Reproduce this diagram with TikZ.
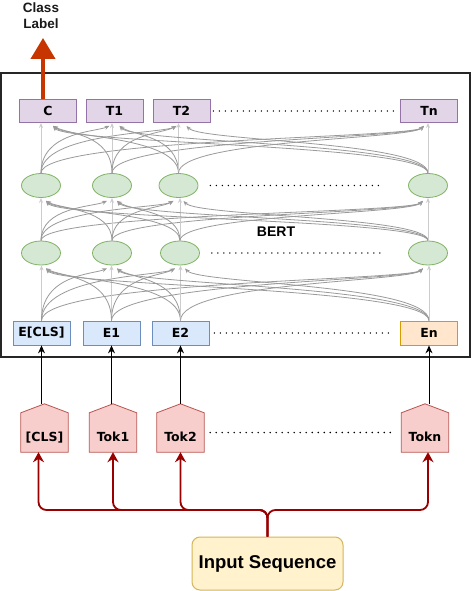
\documentclass[tikz,border=0pt]{standalone}
\usepackage{fontspec}
\setmainfont{Liberation Sans}
\newfontfamily\boxfont{DejaVu Sans}
\usetikzlibrary{arrows.meta,shapes.geometric,backgrounds}
\definecolor{purF}{HTML}{E1D5E7}\definecolor{purD}{HTML}{9673A6}
\definecolor{greF}{HTML}{D5E8D4}\definecolor{greD}{HTML}{82B366}
\definecolor{bluF}{HTML}{DAE8FC}\definecolor{bluD}{HTML}{6C8EBF}
\definecolor{oraF}{HTML}{FFE6CC}\definecolor{oraD}{HTML}{D79B00}
\definecolor{redF}{HTML}{F8CECC}\definecolor{redD}{HTML}{B85450}
\definecolor{yelF}{HTML}{FFF2CC}\definecolor{yelD}{HTML}{D6B656}
\definecolor{busRed}{HTML}{990000}
\definecolor{clsC}{HTML}{C73500}
\definecolor{linkG}{HTML}{9A9A9A}
\definecolor{vlinkG}{HTML}{CCCCCC}
\newcommand\mylinks[6]{%
 \foreach \i/\sx in {#5}{%
  \foreach \j/\tx in {#6}{%
   \ifnum\i=\j\relax
     \draw[vlink] (#1\i.north) -- (#1\i.north |- #3\j.south);
   \else
     \pgfmathsetmacro\mysg{sign(\tx-\sx)}%
     \pgfmathsetmacro\myoff{-5*\mysg}%
     \pgfmathsetmacro\myex{\tx+\myoff}%
     \pgfmathsetmacro\myey{#4+3}%
     \pgfmathsetmacro\myh{#4+8+0.02*abs(\tx-\sx)+2*\i}%
     \pgfmathsetmacro\mycbx{\myex-\mysg*14}%
     \draw[clink] (#1\i.north) .. controls (\sx,\myh) and (\mycbx,\myh) .. ([xshift=\myoff, yshift=-3]#3\j.south);
   \fi
  }%
 }%
}
\begin{document}
\begin{tikzpicture}[x=1pt,y=-1pt,
  lbl/.style={font=\boxfont\bfseries\fontsize{12.5}{14}\selectfont},
  tbox/.style={draw=purD, fill=purF, line width=0.8, minimum width=57, minimum height=23, inner sep=0, lbl},
  ebox/.style={draw=bluD, fill=bluF, line width=0.8, minimum width=57, minimum height=24, inner sep=0, lbl},
  enbox/.style={ebox, draw=oraD, fill=oraF},
  neuron/.style={ellipse, draw=greD, fill=greF, line width=0.8, minimum width=39, minimum height=24, inner sep=0},
  tokn/.style={minimum width=47, minimum height=39, inner sep=0, text height=17, text depth=0, lbl},
  tokshape/.style={draw=redD, fill=redF, line width=0.8},
  clink/.style={draw=linkG, line width=0.8, -{Stealth[length=5pt,width=4pt]}},
  vlink/.style={draw=vlinkG, line width=0.8, -{Stealth[length=5pt,width=4pt]}},
  blk/.style={draw=black, line width=0.9, -{Stealth[length=8pt,width=7pt]}},
  bus/.style={draw=busRed, line width=1.8, rounded corners=8, -{Stealth[length=10pt,width=11pt]}},
  dotl/.style={draw=black, line width=1.6, line cap=round, dash pattern=on 0pt off 6pt},
  title/.style={font=\bfseries\fontsize{14}{16}\selectfont}
]
\useasboundingbox (0,0) rectangle (474,591);
\begin{scope}[on background layer]
\fill[white] (0,0) rectangle (474,591);
\end{scope}

\node[draw=black!85, line width=1.2, minimum width=469, minimum height=284, inner sep=0] (frame) at (235.5,215) {};

% top output boxes
\node[tbox] (T0) at (48,111) {C};
\node[tbox] (T1) at (114.5,111) {T1};
\node[tbox] (T2) at (181.5,111) {T2};
\node[tbox] (T3) at (429,111) {Tn};

% hidden layers
\node[neuron] (A0) at (41,185.5) {};
\node[neuron] (A1) at (112,185.5) {};
\node[neuron] (A2) at (178.5,185.5) {};
\node[neuron] (A3) at (428,185.5) {};
\node[neuron] (B0) at (41,253) {};
\node[neuron] (B1) at (112,253) {};
\node[neuron] (B2) at (180,253) {};
\node[neuron] (B3) at (428,253) {};

% embeddings
\node[ebox] (E0) at (41.5,333) {E[CLS]};
\node[ebox] (E1) at (111.5,333) {E1};
\node[ebox] (E2) at (180.5,333) {E2};
\node[enbox] (E3) at (429,333) {En};

\node[title] (bert) at (276,232) {BERT};

% tokens
\node[tokn] (K0) at (44.5,432.5) {[CLS]};
\node[tokn] (K1) at (113,432.5) {Tok1};
\node[tokn] (K2) at (180.5,432.5) {Tok2};
\node[tokn] (K3) at (425,432.5) {Tokn};
\begin{scope}[on background layer]
\foreach \k in {0,1,2,3}{
  \draw[tokshape] (K\k.south west) -- (K\k.north west) -- ([yshift=9]K\k.north) -- (K\k.north east) -- (K\k.south east) -- cycle;
}
\end{scope}

% input
\node[draw=yelD, fill=yelF, line width=1, rounded corners=8, minimum width=151, minimum height=53, inner sep=0,
      font=\bfseries\fontsize{18.5}{22}\selectfont] (inp) at (267.5,563.5) {Input Sequence};

% class label
\node[align=center, text=black!90, font=\bfseries\fontsize{13.5}{16}\selectfont] (lab) at (41,16) {Class\\Label};
\coordinate (clstip) at (43,38);
\draw[draw=clsC, line width=4, -{Triangle[length=21pt,width=24pt]}] ([xshift=-5]T0.north) -- (clstip);

% dotted rows
\draw[dotl] ([xshift=3]T2.east) -- ([xshift=-5]T3.west);
\draw[dotl] ([xshift=12]A2.east) -- ([xshift=-25]A3.west);
\draw[dotl] ([xshift=12]B2.east) -- ([xshift=-25]B3.west);
\draw[dotl] ([xshift=5]E2.east) -- ([xshift=-10]E3.west);
\draw[dotl] ([xshift=6]K2.east) -- ([xshift=-9]K3.west);

% layer links
\mylinks{E}{321}{B}{265}{0/41.5,1/111.5,2/180.5,3/429}{0/41,1/112,2/180,3/428}
\mylinks{B}{241}{A}{197.5}{0/41,1/112,2/180,3/428}{0/41,1/112,2/178.5,3/428}
\mylinks{A}{173.5}{T}{122.5}{0/41,1/112,2/178.5,3/428}{0/48,1/114.5,2/181.5,3/429}

% token to embedding arrows
\foreach \k in {0,1,2,3}{
  \draw[blk] ([yshift=9]E\k.south |- K\k.north) -- (E\k.south);
}

% input bus
\coordinate (busy) at (267,510);
\draw[bus] (inp.north) |- ([xshift=-6]K0.south |- busy) -- ([xshift=-6]K0.south);
\draw[bus] (inp.north) |- (K1.south |- busy) -- (K1.south);
\draw[bus] (inp.north) |- (K2.south |- busy) -- (K2.south);
\draw[bus] (inp.north) |- ([xshift=3]K3.south |- busy) -- ([xshift=3]K3.south);
\end{tikzpicture}
\end{document}
